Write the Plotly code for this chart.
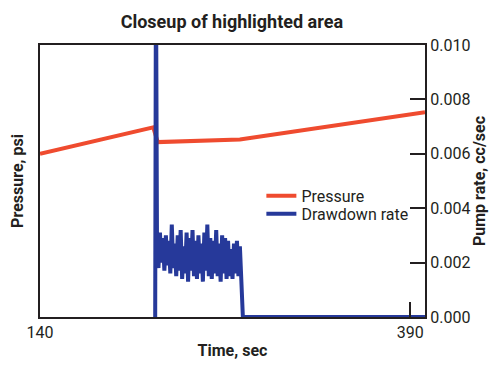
import plotly.graph_objects as go

# Pressure (left axis, arbitrary psi units, no tick labels shown)
pressure_time = [140, 216.5, 219.5, 275, 400]
pressure_vals = [6.00, 6.97, 6.43, 6.53, 7.53]

# Drawdown / pump rate (cc/sec, right axis)
rate_time = [217.8, 218.3, 219.0,
             220, 221, 222, 223, 224, 225, 226, 227, 228, 229,
             230, 231, 232, 233, 234, 235, 236, 237, 238, 239,
             240, 241, 242, 243, 244, 245, 246, 247, 248, 249,
             250, 251, 252, 253, 254, 255, 256, 257, 258, 259,
             260, 261, 262, 263, 264, 265, 266, 267, 268, 269,
             270, 271, 272, 273, 274, 275,
             277, 400]
rate_vals = [0.0, 0.0130, 0.0030,
             0.0018, 0.0031, 0.0020, 0.0029, 0.0017, 0.0030, 0.0019, 0.0028, 0.0016, 0.0034,
             0.0018, 0.0027, 0.0015, 0.0030, 0.0017, 0.0032, 0.0014, 0.0026, 0.0016, 0.0031,
             0.0013, 0.0029, 0.0017, 0.0032, 0.0015, 0.0028, 0.0014, 0.0030, 0.0016, 0.0027,
             0.0013, 0.0031, 0.0017, 0.0034, 0.0015, 0.0029, 0.0014, 0.0028, 0.0016, 0.0032,
             0.0015, 0.0027, 0.0013, 0.0030, 0.0016, 0.0029, 0.0014, 0.0028, 0.0015, 0.0025,
             0.0014, 0.0027, 0.0016, 0.0028, 0.0015, 0.0026,
             0.0, 0.0]

x_ticks = [140, 390]
y2_ticks = [0.0, 0.002, 0.004, 0.006, 0.008, 0.010]

RED = "#ef4b2f"
BLUE = "#26399a"
INK = "#231f20"
FONT = "Roboto, Liberation Sans, sans-serif"

fig = go.Figure()
fig.add_trace(go.Scatter(x=pressure_time, y=pressure_vals, mode="lines",
                         name="Pressure", line=dict(color=RED, width=4),
                         legend="legend"))
fig.add_trace(go.Scatter(x=rate_time, y=rate_vals, mode="lines", yaxis="y2",
                         name="Drawdown rate", line=dict(color=BLUE, width=4),
                         legend="legend2"))

leg_common = dict(xanchor="left", yanchor="middle", bgcolor="rgba(0,0,0,0)",
                  font=dict(size=16, family=FONT, color=INK), itemwidth=30)

fig.update_layout(
    width=492, height=366,
    margin=dict(l=32, r=75, t=37, b=57),
    paper_bgcolor="white", plot_bgcolor="white",
    font=dict(family=FONT, color=INK, size=15),
    title=dict(text="<b>Closeup of highlighted area</b>", x=0.455, xanchor="center",
               y=0.962, yanchor="middle", yref="container",
               font=dict(size=18, family=FONT, color=INK)),
    xaxis=dict(range=[140, 400], tickvals=x_ticks, ticktext=[str(v) for v in x_ticks],
               ticks="inside", ticklen=15, tickcolor=INK, tickwidth=1.5,
               showline=True, linecolor=INK, linewidth=2, mirror=True,
               showgrid=False, zeroline=False, automargin=False,
               tickfont=dict(size=16),
               title=dict(text="<b>Time, sec</b>", standoff=4, font=dict(size=16))),
    yaxis=dict(range=[0, 10], showticklabels=False, ticks="",
               showline=True, linecolor=INK, linewidth=2,
               showgrid=False, zeroline=False, automargin=False,
               title=dict(text="<b>Pressure, psi</b>", standoff=14, font=dict(size=16))),
    yaxis2=dict(range=[0, 0.010], overlaying="y", side="right", tickvals=y2_ticks,
                tickformat=".3f", ticks="inside", ticklen=15, tickcolor=INK,
                tickwidth=1.5, showline=True, linecolor=INK, linewidth=2,
                showgrid=False, zeroline=False, automargin=False,
                tickfont=dict(size=16),
                title=dict(text="<b>Pump rate, cc/sec</b>", standoff=4, font=dict(size=16))),
    legend=dict(x=0.575, y=0.445, **leg_common),
    legend2=dict(x=0.575, y=0.379, **leg_common),
    showlegend=True,
)

fig.write_html("out.html")
